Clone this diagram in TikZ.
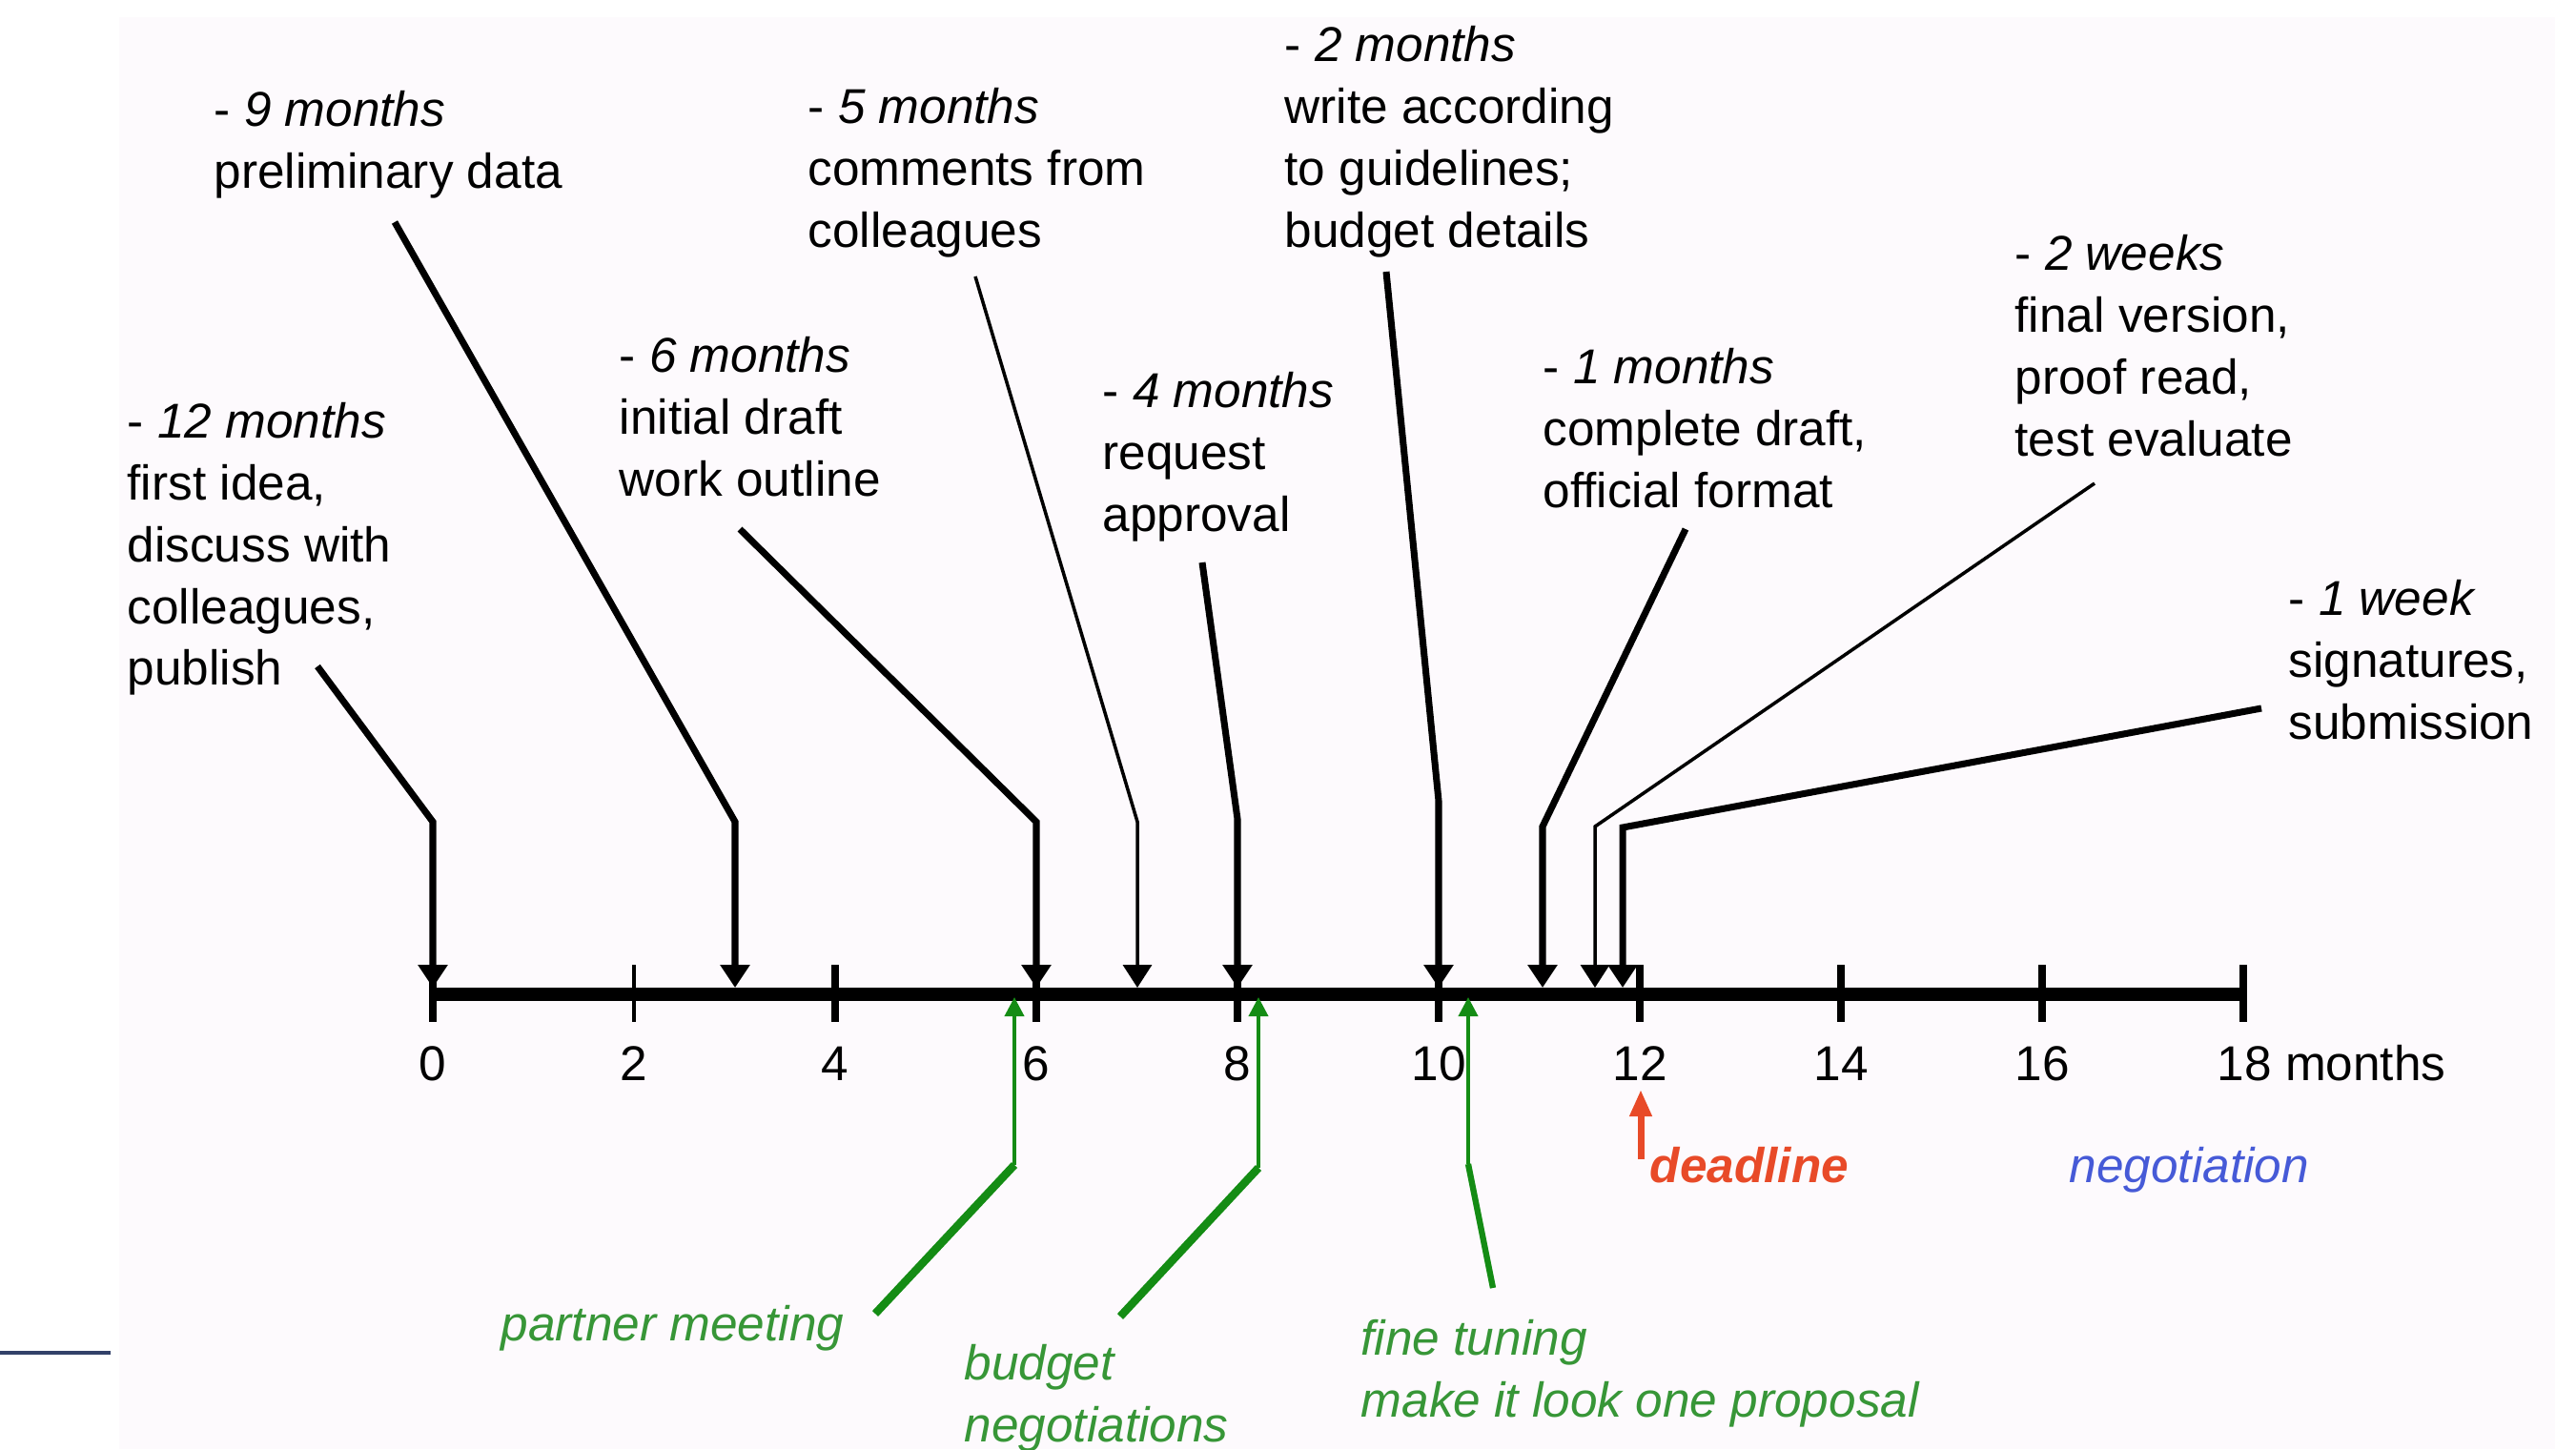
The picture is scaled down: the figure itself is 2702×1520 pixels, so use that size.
\documentclass[tikz,border=0pt]{standalone}
\usepackage{fontspec}
\setmainfont{Liberation Sans}
\usetikzlibrary{arrows.meta}
\definecolor{slide_bg}{RGB}{253,250,253}
\definecolor{line_green}{RGB}{20,140,20}
\definecolor{text_green}{RGB}{55,150,55}
\definecolor{dead_red}{RGB}{232,74,40}
\definecolor{nego_blue}{RGB}{70,90,215}
\definecolor{rule_blue}{RGB}{50,65,105}
\tikzset{
    step_txt/.style = {anchor=north west, inner sep=0pt, align=left, font=\fontsize{14.6}{18.4}\selectfont},
    month_num/.style = {anchor=base, inner sep=0pt, font=\fontsize{14.6}{18.4}\selectfont},
    green_txt/.style = {step_txt, text=text_green, font=\fontsize{14.6}{18.4}\selectfont\itshape},
    lead_thick/.style = {line width=2pt, -{Triangle[length=0.24cm,width=0.3cm]}},
    lead_thin/.style = {line width=1pt, -{Triangle[length=0.24cm,width=0.3cm]}},
    lead_green/.style = {line_green, line width=1.1pt, -{Triangle[length=0.2cm,width=0.2cm]}}
}

\begin{document}
\begin{tikzpicture}[x=0.01cm, y=-0.01cm]
    \useasboundingbox (0,0) rectangle (2702,1520);
    \fill[white] (0,0) rectangle (2702,1520);
    \fill[slide_bg] (125,18) rectangle (2680,1520);
    \draw[rule_blue, line width=1pt] (0,1419) -- (116,1419);

    % time axis
    \draw[line width=4pt] (454,1043) -- (2353,1043);
    \foreach \m in {0,2,...,16} {
        \draw[line width=2.2pt] ({454+105.5*\m},1012) -- ({454+105.5*\m},1072);
        \node[month_num] (num\m) at ({454+105.5*\m},1133) {\m};
    }
    \draw[line width=2.2pt] (2353,1012) -- (2353,1072);
    \fill[slide_bg] (660,1012) rectangle (680,1036);
    \fill[slide_bg] (660,1050) rectangle (680,1073);
    \draw[line width=1.1pt] (665,1012) -- (665,1072);
    \node[month_num, anchor=base west] (num18) at (2325,1133) {18 months};

    % black steps
    \node[step_txt] (m12) at (133,422) {- \textit{12 months}\\first idea,\\discuss with\\colleagues,\\publish};
    \node[step_txt] (m9) at (224,95) {- \textit{9 months}\\preliminary data};
    \node[step_txt] (m6) at (649,353) {- \textit{6 months}\\initial draft\\work outline};
    \node[step_txt] (m5) at (847,92) {- \textit{5 months}\\comments from\\colleagues};
    \node[step_txt] (m4) at (1156,390) {- \textit{4 months}\\request\\approval};
    \node[step_txt] (m2) at (1347,27) {- \textit{2 months}\\write according\\to guidelines;\\budget details};
    \node[step_txt] (m1) at (1618,365) {- \textit{1 months}\\complete draft,\\official format};
    \node[step_txt] (w2) at (2113,246) {- \textit{2 weeks}\\final version,\\proof read,\\test evaluate};
    \node[step_txt] (w1) at (2400,608) {- \textit{1 week}\\signatures,\\submission};

    \coordinate (m12_s) at (333,699);  \coordinate (m12_b) at (454,862);  \coordinate (m12_t) at (454,1036);
    \coordinate (m9_s) at (414,233);   \coordinate (m9_b) at (771,862);   \coordinate (m9_t) at (771,1036);
    \coordinate (m6_s) at (776,555);   \coordinate (m6_b) at (1087,862);  \coordinate (m6_t) at (1087,1036);
    \coordinate (m5_s) at (1023,290);  \coordinate (m5_b) at (1193,862);  \coordinate (m5_t) at (1193,1036);
    \coordinate (m4_s) at (1261,590);  \coordinate (m4_b) at (1298,859);  \coordinate (m4_t) at (1298,1036);
    \coordinate (m2_s) at (1454,285);  \coordinate (m2_b) at (1509,840);  \coordinate (m2_t) at (1509,1036);
    \coordinate (m1_s) at (1768,555);  \coordinate (m1_b) at (1618,867);  \coordinate (m1_t) at (1618,1036);
    \coordinate (w2_s) at (2197,507);  \coordinate (w2_b) at (1673,867);  \coordinate (w2_t) at (1673,1036);
    \coordinate (w1_s) at (2372,743);  \coordinate (w1_b) at (1702,868);  \coordinate (w1_t) at (1702,1036);

    \draw[lead_thick] (m12_s) -- (m12_b) -- (m12_t);
    \draw[lead_thick] (m9_s) -- (m9_b) -- (m9_t);
    \draw[lead_thick] (m6_s) -- (m6_b) -- (m6_t);
    \draw[lead_thin] (m5_s) -- (m5_b) -- (m5_t);
    \draw[lead_thick] (m4_s) -- (m4_b) -- (m4_t);
    \draw[lead_thick] (m2_s) -- (m2_b) -- (m2_t);
    \draw[lead_thick] (m1_s) -- (m1_b) -- (m1_t);
    \draw[lead_thin] (w2_s) -- (w2_b) -- (w2_t);
    \draw[lead_thick] (w1_s) -- (w1_b) -- (w1_t);

    % green notes below
    \node[green_txt, anchor=base west] (partner) at (525,1406) {partner meeting};
    \node[green_txt] (budget) at (1011,1410) {budget\\negotiations};
    \node[green_txt] (tuning) at (1427,1384) {fine tuning\\make it look one proposal};

    \coordinate (partner_s) at (918,1378); \coordinate (partner_b) at (1064,1222); \coordinate (partner_t) at (1064,1046);
    \coordinate (budget_s) at (1175,1381); \coordinate (budget_b) at (1320,1225);  \coordinate (budget_t) at (1320,1046);
    \coordinate (tuning_s) at (1566,1351); \coordinate (tuning_b) at (1540,1221);  \coordinate (tuning_t) at (1540,1046);

    \draw[line_green, line width=2.4pt] (partner_s) -- (partner_b);
    \draw[lead_green] (partner_b) -- (partner_t);
    \draw[line_green, line width=2.4pt] (budget_s) -- (budget_b);
    \draw[lead_green] (budget_b) -- (budget_t);
    \draw[line_green, line width=1.8pt] (tuning_s) -- (tuning_b);
    \draw[lead_green] (tuning_b) -- (tuning_t);

    % deadline and negotiation
    \coordinate (dead_s) at (1721,1216);
    \coordinate (dead_t) at (1721,1143);
    \draw[dead_red, line width=2pt, -{Triangle[length=0.28cm,width=0.22cm]}] (dead_s) -- (dead_t);
    \node[step_txt, anchor=base west, text=dead_red, font=\fontsize{14.6}{18.4}\selectfont\bfseries\itshape] (deadline) at (1730,1240) {deadline};
    \node[step_txt, anchor=base west, text=nego_blue, font=\fontsize{14.6}{18.4}\selectfont\itshape] (nego) at (2170,1240) {negotiation};
\end{tikzpicture}
\end{document}
